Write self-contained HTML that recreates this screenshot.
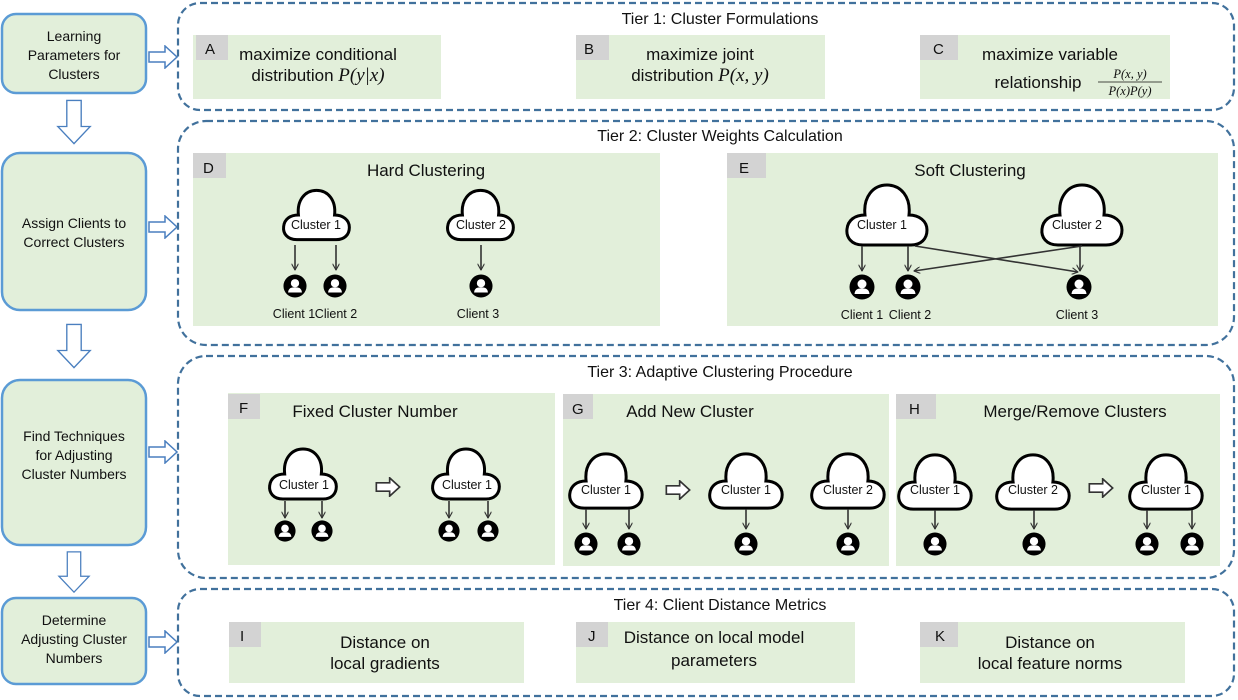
<!DOCTYPE html>
<html><head><meta charset="utf-8"><style>
html,body{margin:0;padding:0;background:#fff}
svg{display:block}
text{font-family:"Liberation Sans",sans-serif;fill:#111}
.m{font-family:"Liberation Serif",serif;font-style:italic}
</style></head><body>
<svg width="1238" height="700" viewBox="0 0 1238 700" xmlns="http://www.w3.org/2000/svg">
<defs>
<symbol id="cl" viewBox="0 0 84 64" overflow="visible">
<path d="M18,62 C6,62 1,54 2,46 C3,37 10,32 20,32 C18,14 28,2 42,2 C56,2 66,14 64,32 C74,32 82,38 82,47 C82,56 76,62 66,62 Z" fill="#fff" stroke="#000" stroke-width="3" vector-effect="non-scaling-stroke"/>
</symbol>
<symbol id="cu" viewBox="0 0 26 26">
<circle cx="13" cy="13" r="12.5" fill="#000"/>
<circle cx="13" cy="10" r="4.5" fill="#fff"/>
<path d="M5.5,20 C6,15 9,14.5 13,14.5 C17,14.5 20,15 20.5,20 Z" fill="#fff"/>
</symbol>
<marker id="ah" viewBox="0 0 10 10" refX="9" refY="5" markerWidth="7" markerHeight="7" orient="auto" markerUnits="userSpaceOnUse"><path d="M0,0 L9,5 L0,10" fill="none" stroke="#333" stroke-width="1.6"/></marker>
<symbol id="ra" viewBox="0 0 30 24"><path d="M1,7 H17 V1 L29,12 L17,23 V17 H1 Z" fill="#fff" stroke="#4a7fbf" stroke-width="1.5"/></symbol>
<symbol id="da" viewBox="0 0 40 50"><path d="M12,1 H28 V30 H38 L20,49 L2,30 H12 Z" fill="#fff" stroke="#4a7fbf" stroke-width="1.5"/></symbol>
<symbol id="ga" viewBox="0 0 30 24"><path d="M1,7 H17 V1 L29,12 L17,23 V17 H1 Z" fill="#fff" stroke="#333" stroke-width="2"/></symbol>
</defs>

<g fill="#e2efda" stroke="#5b9bd5" stroke-width="2.5">
<rect x="2" y="14" width="144" height="79" rx="14"/>
<rect x="2" y="153" width="144" height="157" rx="18"/>
<rect x="2" y="380" width="144" height="165" rx="18"/>
<rect x="2" y="598" width="144" height="86" rx="14"/>
</g>
<g font-size="14" text-anchor="middle">
<text x="74" y="41">Learning</text><text x="74" y="60">Parameters for</text><text x="74" y="79">Clusters</text>
<text x="74" y="228">Assign Clients to</text><text x="74" y="247">Correct Clusters</text>
<text x="74" y="441">Find Techniques</text><text x="74" y="460">for Adjusting</text><text x="74" y="479">Cluster Numbers</text>
<text x="74" y="625">Determine</text><text x="74" y="644">Adjusting Cluster</text><text x="74" y="663">Numbers</text>
</g>
<use href="#da" x="56" y="99" width="36" height="46"/>
<use href="#da" x="56" y="322" width="36" height="48"/>
<use href="#da" x="56" y="551" width="36" height="42"/>
<use href="#ra" x="148" y="45" width="30" height="24"/>
<use href="#ra" x="148" y="215" width="30" height="24"/>
<use href="#ra" x="148" y="440" width="30" height="24"/>
<use href="#ra" x="148" y="630" width="30" height="24"/>

<g fill="none" stroke="#41719c" stroke-width="2.2" stroke-dasharray="7,4">
<rect x="178" y="3" width="1056" height="107" rx="22"/>
<rect x="178" y="121" width="1056" height="224" rx="28"/>
<rect x="178" y="356" width="1056" height="222" rx="28"/>
<rect x="178" y="589" width="1056" height="107" rx="22"/>
</g>
<g font-size="16" text-anchor="middle">
<text x="720" y="24">Tier 1: Cluster Formulations</text>
<text x="720" y="141">Tier 2: Cluster Weights Calculation</text>
<text x="720" y="377">Tier 3: Adaptive Clustering Procedure</text>
<text x="720" y="610">Tier 4: Client Distance Metrics</text>
</g>

<g fill="#e2efda">
<rect x="193" y="35" width="248" height="64"/>
<rect x="576" y="35" width="249" height="64"/>
<rect x="920" y="35" width="250" height="64"/>
<rect x="193" y="153" width="467" height="173"/>
<rect x="727" y="153" width="491" height="173"/>
<rect x="228" y="393" width="327" height="172"/>
<rect x="563" y="394" width="326" height="172"/>
<rect x="896" y="394" width="324" height="172"/>
<rect x="229" y="622" width="295" height="61"/>
<rect x="576" y="622" width="279" height="61"/>
<rect x="920" y="622" width="265" height="61"/>
</g>
<g fill="#d3d3d3">
<rect x="196" y="35" width="32" height="25"/>
<rect x="576" y="35" width="33" height="25"/>
<rect x="920" y="35" width="38" height="25"/>
<rect x="193" y="153" width="33" height="25"/>
<rect x="727" y="153" width="39" height="25"/>
<rect x="228" y="394" width="32" height="25"/>
<rect x="563" y="394" width="30" height="25"/>
<rect x="896" y="394" width="40" height="25"/>
<rect x="229" y="622" width="32" height="25"/>
<rect x="576" y="622" width="32" height="25"/>
<rect x="920" y="622" width="38" height="25"/>
</g>
<g font-size="15">
<text x="205" y="54">A</text><text x="584" y="54">B</text><text x="933" y="54">C</text>
<text x="203" y="173">D</text><text x="739" y="173">E</text>
<text x="239" y="413">F</text><text x="572" y="414">G</text><text x="909" y="414">H</text>
<text x="240" y="641">I</text><text x="588" y="641">J</text><text x="935" y="641">K</text>
</g>
<g font-size="17" text-anchor="middle">
<text x="318" y="60">maximize conditional</text>
<text x="318" y="81">distribution <tspan class="m" font-size="19">P(y|x)</tspan></text>
<text x="700" y="60">maximize joint</text>
<text x="700" y="81">distribution <tspan class="m" font-size="19">P(x, y)</tspan></text>
<text x="1050" y="60">maximize variable</text>
<text x="1038" y="88">relationship</text>
<text x="1130" y="78" class="m" font-size="12.5">P(x, y)</text>
<line x1="1098" y1="82" x2="1162" y2="82" stroke="#111" stroke-width="0.8"/>
<text x="1130" y="95" class="m" font-size="12.5">P(x)P(y)</text>
<text x="426" y="176">Hard Clustering</text>
<text x="970" y="176">Soft Clustering</text>
<text x="375" y="417">Fixed Cluster Number</text>
<text x="690" y="417">Add New Cluster</text>
<text x="1075" y="417">Merge/Remove Clusters</text>
<text x="385" y="648">Distance on</text><text x="385" y="669">local gradients</text>
<text x="714" y="643">Distance on local model</text><text x="714" y="666">parameters</text>
<text x="1050" y="648">Distance on</text><text x="1050" y="669">local feature norms</text>
</g>

<use href="#cl" x="282" y="184" width="69" height="62"/>
<use href="#cl" x="446" y="184" width="69" height="62"/>
<g stroke="#333" stroke-width="1.6" marker-end="url(#ah)">
<line x1="295" y1="245" x2="295" y2="270"/><line x1="336" y1="245" x2="336" y2="270"/>
<line x1="481" y1="245" x2="481" y2="270"/>
</g>
<use href="#cu" x="283" y="273" width="24" height="26"/>
<use href="#cu" x="323" y="273" width="24" height="26"/>
<use href="#cu" x="469" y="273" width="24" height="26"/>
<g font-size="12.5" text-anchor="middle">
<text x="316" y="229">Cluster 1</text><text x="481" y="229">Cluster 2</text>
<text x="294" y="318">Client 1</text><text x="336" y="318">Client 2</text><text x="478" y="318">Client 3</text>
</g>

<use href="#cl" x="845" y="183" width="84" height="64"/>
<use href="#cl" x="1040" y="183" width="84" height="64"/>
<g stroke="#333" stroke-width="1.6" marker-end="url(#ah)">
<line x1="862" y1="246" x2="862" y2="271"/>
<line x1="908" y1="246" x2="908" y2="271"/>
<line x1="915" y1="246" x2="1078" y2="272"/>
<line x1="1082" y1="246" x2="914" y2="271"/>
<line x1="1080" y1="246" x2="1080" y2="271"/>
</g>
<use href="#cu" x="849" y="274" width="26" height="26"/>
<use href="#cu" x="895" y="274" width="26" height="26"/>
<use href="#cu" x="1066" y="274" width="26" height="26"/>
<g font-size="12.5" text-anchor="middle">
<text x="882" y="229">Cluster 1</text><text x="1077" y="229">Cluster 2</text>
<text x="862" y="319">Client 1</text><text x="910" y="319">Client 2</text><text x="1077" y="319">Client 3</text>
</g>

<use href="#cl" x="268" y="446" width="70" height="56"/>
<use href="#cl" x="431" y="446" width="70" height="56"/>
<use href="#ga" x="375" y="477" width="26" height="20"/>
<g stroke="#333" stroke-width="1.6" marker-end="url(#ah)">
<line x1="285" y1="501" x2="285" y2="518"/><line x1="322" y1="501" x2="322" y2="518"/>
<line x1="449" y1="501" x2="449" y2="518"/><line x1="488" y1="501" x2="488" y2="518"/>
</g>
<use href="#cu" x="274" y="519" width="22" height="24"/>
<use href="#cu" x="311" y="519" width="22" height="24"/>
<use href="#cu" x="438" y="519" width="22" height="24"/>
<use href="#cu" x="477" y="519" width="22" height="24"/>
<g font-size="12.5" text-anchor="middle">
<text x="304" y="489">Cluster 1</text><text x="467" y="489">Cluster 1</text>
</g>

<use href="#cl" x="568" y="452" width="76" height="58"/>
<use href="#cl" x="708" y="452" width="76" height="58"/>
<use href="#cl" x="810" y="452" width="76" height="58"/>
<use href="#ga" x="665" y="480" width="26" height="20"/>
<g stroke="#333" stroke-width="1.6" marker-end="url(#ah)">
<line x1="586" y1="509" x2="586" y2="529"/><line x1="629" y1="509" x2="629" y2="529"/>
<line x1="746" y1="509" x2="746" y2="529"/><line x1="848" y1="509" x2="848" y2="529"/>
</g>
<use href="#cu" x="574" y="531" width="24" height="26"/>
<use href="#cu" x="617" y="531" width="24" height="26"/>
<use href="#cu" x="734" y="531" width="24" height="26"/>
<use href="#cu" x="836" y="531" width="24" height="26"/>
<g font-size="12.5" text-anchor="middle">
<text x="606" y="494">Cluster 1</text><text x="746" y="494">Cluster 1</text><text x="848" y="494">Cluster 2</text>
</g>

<use href="#cl" x="897" y="453" width="76" height="58"/>
<use href="#cl" x="995" y="453" width="76" height="58"/>
<use href="#cl" x="1128" y="453" width="76" height="58"/>
<use href="#ga" x="1088" y="478" width="26" height="20"/>
<g stroke="#333" stroke-width="1.6" marker-end="url(#ah)">
<line x1="935" y1="510" x2="935" y2="529"/><line x1="1034" y1="510" x2="1034" y2="529"/>
<line x1="1147" y1="510" x2="1147" y2="529"/><line x1="1192" y1="510" x2="1192" y2="529"/>
</g>
<use href="#cu" x="923" y="531" width="24" height="26"/>
<use href="#cu" x="1022" y="531" width="24" height="26"/>
<use href="#cu" x="1135" y="531" width="24" height="26"/>
<use href="#cu" x="1180" y="531" width="24" height="26"/>
<g font-size="12.5" text-anchor="middle">
<text x="935" y="494">Cluster 1</text><text x="1033" y="494">Cluster 2</text><text x="1166" y="494">Cluster 1</text>
</g>
</svg>
</body></html>
